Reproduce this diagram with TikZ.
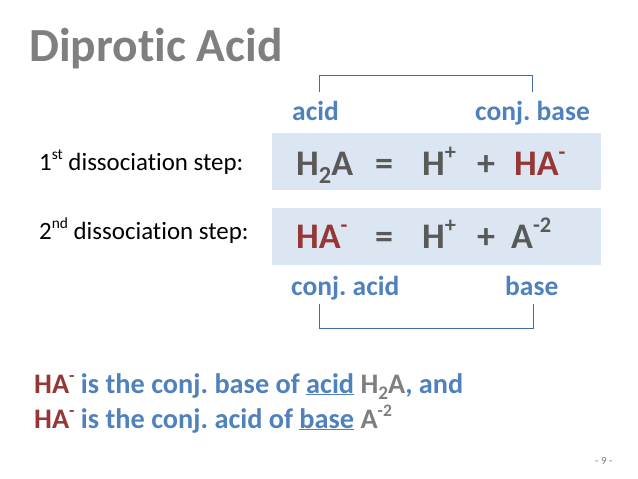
\documentclass[tikz,border=0pt]{standalone}
\usepackage{fontspec}
\setmainfont{Carlito}[Ligatures={NoCommon}]
\usepackage{tikz}

\definecolor{titlegray}{HTML}{7F7F7F}
\definecolor{eqgray}{HTML}{595959}
\definecolor{acidred}{HTML}{953735}
\definecolor{labelblue}{HTML}{4F81BD}
\definecolor{boxfill}{HTML}{DCE6F2}

\newcommand{\supr}[1]{\raisebox{0.42em}{\scalebox{0.62}{#1}}}
\newcommand{\subr}[1]{\raisebox{-0.24em}{\scalebox{0.68}{#1}}}

\begin{document}
\frenchspacing
\begin{tikzpicture}[x=1pt,y=-1pt]
\tikzstyle{every node}+=[inner sep=0pt]
\tikzset{
  eqbox/.style={fill=boxfill, minimum width=329pt, minimum height=57pt},
  eq/.style={anchor=base west, font=\fontsize{36}{43}\selectfont\bfseries, text=eqgray},
  lbl/.style={anchor=base west, font=\fontsize{27.5}{33}\selectfont\bfseries, text=labelblue},
  side/.style={anchor=base west, font=\fontsize{24.9}{30}\selectfont, text=black},
  note/.style={anchor=base west, font=\fontsize{28.3}{34}\selectfont\bfseries, text=labelblue},
  brk/.style={draw=labelblue!85!black, line width=0.9pt}
}
\useasboundingbox (0,0) rectangle (638,479);

% title
\node [anchor=base west, font=\fontsize{47.5}{57}\selectfont\bfseries, text=titlegray] (title) at (29,61) {Diprotic Acid};

% boxes
\node [eqbox] (box1) at (436.5,161.5) {};
\node [eqbox] (box2) at (436.5,236) {};

% labels on the left
\node [side] (step1) at (39,170) {1\supr{st} dissociation step:};
\node [side] (step2) at (39,239) {2\supr{nd} dissociation step:};

% first equation
\node [eq] (a1) at (296,175) {H\subr{2}A};
\node [eq] (e1) at (375,175) {=};
\node [eq] (h1) at (422,175) {H\supr{+}};
\node [eq] (p1) at (477,175) {+};
\node [eq, text=acidred] (b1) at (514,175) {HA\supr{-}};

% second equation
\node [eq, text=acidred] (a2) at (296,248) {HA\supr{-}};
\node [eq] (e2) at (375,248) {=};
\node [eq] (h2) at (422,248) {H\supr{+}};
\node [eq] (p2) at (477,248) {+};
\node [eq] (b2) at (511,248) {A\supr{-2}};

% acid / base labels
\node [lbl] (acid) at (292,120) {acid};
\node [lbl] (cbase) at (475,120) {conj. base};
\node [lbl] (cacid) at (291,295) {conj. acid};
\node [lbl] (base) at (505,295) {base};

% brackets
\coordinate (tl) at (319,92);
\coordinate (tr) at (532,92);
\draw [brk] (tl) -- ++(0,-17) -| (tr);
\coordinate (bl) at (319,304);
\coordinate (br) at (533,304);
\draw [brk] (bl) -- ++(0,24) -| (br);

% notes
\node [note] (n1) at (34,393) {\textcolor{acidred}{HA\supr{-}} is the conj. base of \underline{acid} \textcolor{titlegray}{H\subr{2}A}, and};
\node [note] (n2) at (34,428) {\textcolor{acidred}{HA\supr{-}} is the conj. acid of \underline{base} \textcolor{titlegray}{A\supr{-2}}};

% page number
\node [anchor=base west, font=\fontsize{11}{13}\selectfont, text=titlegray] (page) at (595,464) {- 9 -};
\end{tikzpicture}
\end{document}
